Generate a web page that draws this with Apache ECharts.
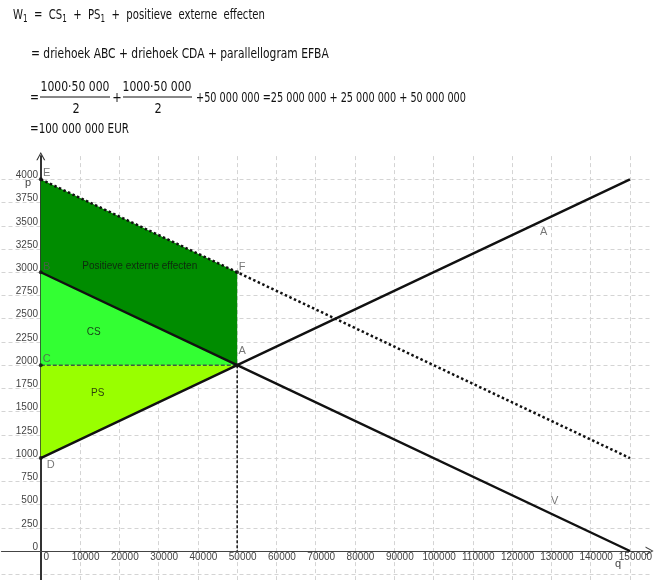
<!DOCTYPE html>
<html><head><meta charset="utf-8">
<script src="https://cdn.jsdelivr.net/npm/echarts@6/dist/echarts.min.js"></script>
<style>html,body{margin:0;padding:0;background:#fff}#c{width:660px;height:580px}</style>
</head><body><div id="c"></div>
<script>
// ---- data ----
const supplyQ = [0, 50000, 150000];
const supplyP = [1000, 2000, 4000];
const demandQ = [0, 50000, 150000];
const demandP = [3000, 2000, 0];
const socialQ = [0, 50000, 150000];
const socialP = [4000, 3000, 1000];
const dropQ = [50000, 50000];
const dropP = [2000, 0];
const priceQ = [0, 50000];
const priceP = [2000, 2000];
const pointNames = ['E', 'B', 'C', 'D', 'F', 'A'];
const pointQ = [0, 0, 0, 0, 50000, 50000];
const pointP = [4000, 3000, 2000, 1000, 3000, 2000];
const areaNames = ['Positieve externe effecten', 'CS', 'PS'];
const areaQ = [[0, 50000, 50000, 0], [0, 50000, 0], [0, 50000, 0]];
const areaP = [[4000, 3000, 2000, 3000], [3000, 2000, 2000], [2000, 2000, 1000]];
const areaLabelQ = [25200, 13500, 14500];
const areaLabelP = [3060, 2350, 1700];
const lineLabelNames = ['A', 'V'];
const lineLabelQ = [128000, 130800];
const lineLabelP = [3430, 540];
const xTickMin = 0, xTickMax = 150000;
const yTickMin = 0, yTickMax = 4000;

// ---- styles ----
const areaColors = ['#008c00', '#33ff33', '#99ff00'];
const pointLabelOffsets = [[6, -6], [6, -5], [6, -6], [10, 7], [5, -5], [5, -14]];
const FF = "'Liberation Sans Narrow','DejaVu Sans Condensed','Liberation Sans',sans-serif";
const AF = "'Liberation Sans',Arial,sans-serif";
const chevron = 'path://M5,0 L10,9 L8.6,9 L5,2.2 L1.4,9 L0,9 Z';
const FS = 14, SX = 0.8;

const zip = (a, b) => a.map((v, i) => [v, b[i]]);

const chart = echarts.init(document.getElementById('c'), null, {renderer: 'canvas'});

const polySeries = {
  type: 'custom',
  clip: true,
  z: 1,
  data: areaNames.map((n, i) => ({name: n, value: [areaQ[i][0], areaP[i][0]]})),
  renderItem: (params, api) => {
    const i = params.dataIndex;
    const pts = areaQ[i].map((q, k) => api.coord([q, areaP[i][k]]));
    return {type: 'polygon', shape: {points: pts}, style: {fill: areaColors[i]}};
  },
  silent: true
};

function lineSeries(q, p, color, width, type, z) {
  return {type: 'line', data: zip(q, p), symbol: 'none', z: z || 3, silent: true,
    lineStyle: {color: color, width: width, type: type}, animation: false};
}

function txt(x, y, text, sx, align) {
  return {type: 'text', x: x, y: y, scaleX: sx, style: {text: text, fontSize: FS, fontFamily: FF, fill: '#111',
    align: align || 'left', verticalAlign: 'middle'}};
}

const formulaGraphics = [
  {type: 'text', x: 13, y: 6, scaleX: SX, style: {
    text: '{m|W}{s|1}{m|  =  CS}{s|1}{m|  +  PS}{s|1}{m|  +  positieve  externe  effecten}',
    rich: {m: {fontSize: FS, fontFamily: FF, fill: '#111', lineHeight: 18},
           s: {fontSize: 10, fontFamily: FF, fill: '#111', lineHeight: 18, verticalAlign: 'bottom'}}
  }},
  txt(31, 54, '= driehoek ABC + driehoek CDA + parallellogram EFBA', 0.85),
  txt(30, 98, '=', 0.85),
  txt(75, 87, '1000\u00b750 000', 0.86, 'center'),
  {type: 'line', shape: {x1: 40, y1: 97, x2: 110, y2: 97}, style: {stroke: '#111', lineWidth: 1}},
  txt(76, 109, '2', 0.9, 'center'),
  txt(117, 98, '+', 0.9, 'center'),
  txt(157, 87, '1000\u00b750 000', 0.86, 'center'),
  {type: 'line', shape: {x1: 123, y1: 97, x2: 192, y2: 97}, style: {stroke: '#111', lineWidth: 1}},
  txt(158, 109, '2', 0.9, 'center'),
  txt(196, 98, '+50 000 000 =25 000 000 + 25 000 000 + 50 000 000', 0.77),
  txt(30, 129, '=100 000 000 EUR', 0.82),
  {type: 'text', x: 28, y: 183, style: {text: 'p', fontSize: 11, fontFamily: AF, fill: '#444', align: 'center', verticalAlign: 'middle'}},
  {type: 'text', x: 618, y: 564, style: {text: 'q', fontSize: 11, fontFamily: AF, fill: '#444', align: 'center', verticalAlign: 'middle'}}
];

const option = {
  animation: false,
  backgroundColor: '#fff',
  grid: {left: 1.5, top: 156.1, width: 648.1, height: 441.4, containLabel: false, outerBoundsMode: 'none'},
  xAxis: {
    type: 'value', min: -10000, max: 155000, interval: 10000,
    axisLine: {onZero: true, lineStyle: {color: '#444', width: 1.2}, symbol: ['none', chevron], symbolSize: [9, 9]},
    axisTick: {show: false},
    splitLine: {show: true, showMinLine: false, showMaxLine: false, lineStyle: {color: '#d4d4d4', type: [4, 3], width: 1}},
    axisLabel: {
      fontSize: 10, fontFamily: AF, color: '#444', margin: -45.5, hideOverlap: false,
      formatter: v => (v >= xTickMin && v <= xTickMax) ? '{a|' + v + '}' : '',
      rich: {a: {fontSize: 10, fontFamily: AF, color: '#444', padding: [0, 0, 0, 11]}}
    }
  },
  yAxis: {
    type: 'value', min: -500, max: 4250, interval: 250,
    axisLine: {onZero: true, lineStyle: {color: '#333', width: 2}, symbol: ['none', chevron], symbolSize: [9, 10]},
    axisTick: {show: false},
    splitLine: {show: true, showMinLine: false, showMaxLine: false, lineStyle: {color: '#d4d4d4', type: [4, 3], width: 1}},
    axisLabel: {
      fontSize: 10, fontFamily: AF, color: '#444', margin: -36.5, hideOverlap: false,
      formatter: v => (v >= yTickMin && v <= yTickMax) ? '{a|' + v + '}' : '',
      rich: {a: {fontSize: 10, fontFamily: AF, color: '#444', padding: [0, 0, 8, 0]}}
    }
  },
  graphic: formulaGraphics,
  series: [
    polySeries,
    lineSeries(priceQ, priceP, '#3d5f3d', 1.4, [4, 2], 2),
    lineSeries(dropQ, dropP, '#111', 1.5, [3, 2], 2),
    lineSeries(socialQ, socialP, '#111', 2.5, 'dotted', 3),
    lineSeries(demandQ, demandP, '#111', 2.4, 'solid', 4),
    lineSeries(supplyQ, supplyP, '#111', 2.4, 'solid', 4),
    {
      type: 'scatter', z: 6, symbolSize: 4, silent: true,
      itemStyle: {color: '#111'},
      data: pointNames.map((n, i) => ({name: n, value: [pointQ[i], pointP[i]],
        label: {offset: pointLabelOffsets[i]}})),
      label: {show: true, position: 'inside', formatter: '{b}', fontSize: 11, fontFamily: AF, color: '#555'}
    },
    {
      type: 'scatter', z: 6, symbolSize: 0, silent: true,
      data: areaNames.map((n, i) => ({name: n, value: [areaLabelQ[i], areaLabelP[i]]})),
      label: {show: true, position: 'inside', formatter: '{b}', fontSize: 10, fontFamily: AF, color: '#111'}
    },
    {
      type: 'scatter', z: 6, symbolSize: 0, silent: true,
      data: lineLabelNames.map((n, i) => ({name: n, value: [lineLabelQ[i], lineLabelP[i]]})),
      label: {show: true, position: 'inside', formatter: '{b}', fontSize: 11, fontFamily: AF, color: '#555'}
    }
  ]
};
chart.setOption(option);
</script>
</body></html>
